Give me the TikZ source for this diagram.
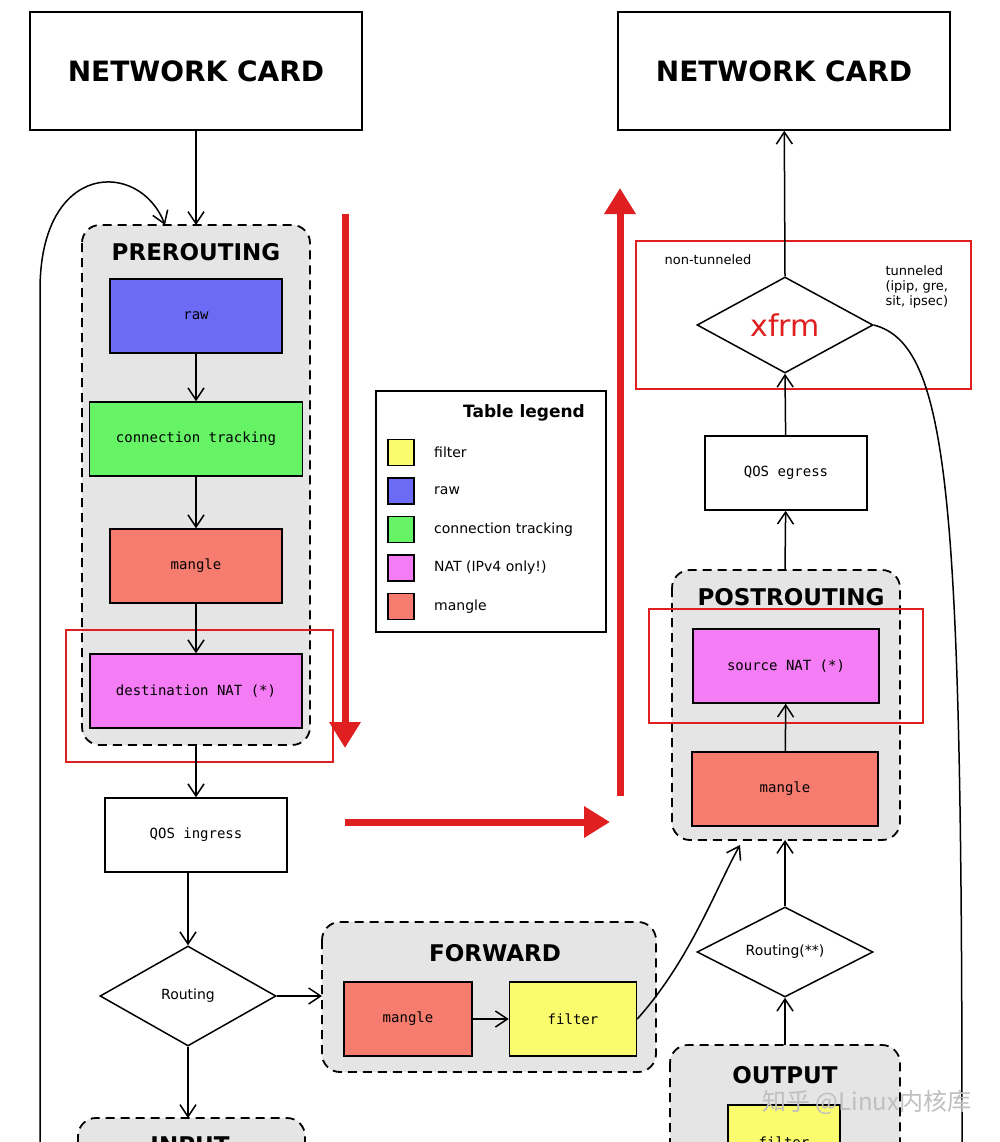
\documentclass[tikz,border=0pt]{standalone}
\usepackage{fontspec}
\setmainfont{DejaVu Sans}
\newfontfamily\monofont{DejaVu Sans Mono}
\newfontfamily\cjk{Noto Sans CJK SC}
\usetikzlibrary{shapes.geometric, positioning, arrows.meta}
\definecolor{rawblue}{HTML}{6B6BF5}
\definecolor{ctgreen}{HTML}{66F466}
\definecolor{mgred}{HTML}{F77C70}
\definecolor{natpink}{HTML}{F47CF4}
\definecolor{filtyel}{HTML}{FBFB6E}
\definecolor{hired}{HTML}{E02020}
\tikzset{
  card/.style={draw=black,line width=1.5pt,fill=white,minimum width=332pt,minimum height=118pt,font=\fontsize{28}{30}\selectfont\bfseries},
  tbl/.style={draw=black,line width=1.5pt,minimum height=74pt,font=\monofont\fontsize{14}{16}\selectfont},
  chain/.style={draw=black,line width=1.8pt,dash pattern=on 9pt off 6pt,rounded corners=18pt,fill=black!10},
  ctitle/.style={font=\fontsize{23}{25}\selectfont\bfseries},
  decide/.style={diamond,draw=black,line width=1.5pt,fill=white,aspect=1.8,inner sep=0pt,font=\fontsize{14}{16}\selectfont},
  flow/.style={line width=1.5pt,-{Straight Barb[length=12pt,width=16pt]}},
  hilite/.style={draw=hired,line width=2.2pt},
  bigarrow/.style={hired,line width=7pt,-{Triangle[length=26pt,width=30pt]}},
  swatch/.style={draw=black,line width=1.3pt,minimum width=26pt,minimum height=26pt,inner sep=0pt},
  legtext/.style={anchor=west,font=\fontsize{14}{16}\selectfont}
}
\begin{document}
\begin{tikzpicture}[x=1pt,y=-1pt]
  \useasboundingbox (0,0) rectangle (1000,1142);
  % cards
  \node[card] (cardin) at (196,71) {NETWORK CARD};
  \node[card] (cardout) at (784,71) {NETWORK CARD};

  % PREROUTING
  \draw[chain] (82,225) rectangle (310,745);
  \coordinate (pretop) at (196,225);
  \coordinate (preloop) at (165,225);
  \coordinate (prebot) at (196,745);
  \node[ctitle] at (196,252) {PREROUTING};
  \node[tbl,fill=rawblue,minimum width=172pt] (raw) at (196,316) {raw};
  \node[tbl,fill=ctgreen,minimum width=213pt] (conn) at (196,439) {connection tracking};
  \node[tbl,fill=mgred,minimum width=172pt] (premangle) at (196,566) {mangle};
  \node[tbl,fill=natpink,minimum width=212pt] (dnat) at (196,691) {destination NAT (*)};
  \draw[hilite] (66,630) rectangle (333,762);

  \node[tbl,fill=white,minimum width=182pt] (qosin) at (196,835) {QOS ingress};
  \node[decide,minimum width=176pt,minimum height=100pt] (route) at (188,996) {Routing};

  % INPUT
  \draw[chain] (78,1118) rectangle (305,1200);
  \coordinate (intop) at (188,1118);
  \node[ctitle] at (190,1145) {INPUT};

  % FORWARD
  \draw[chain] (322,922) rectangle (656,1072);
  \coordinate (fwdleft) at (322,996);
  \node[ctitle] at (495,953) {FORWARD};
  \node[tbl,fill=mgred,minimum width=128pt] (fwdmangle) at (408,1019) {mangle};
  \node[tbl,fill=filtyel,minimum width=127pt] (fwdfilter) at (573,1019) {filter};

  % OUTPUT
  \draw[chain] (670,1045) rectangle (900,1200);
  \coordinate (outtop) at (785,1045);
  \node[ctitle] at (785,1075) {OUTPUT};
  \node[tbl,fill=filtyel,minimum width=112pt] (outfilter) at (784,1142) {filter};
  \node[decide,minimum width=176pt,minimum height=90pt] (route2) at (785,952) {Routing(**)};

  % POSTROUTING
  \draw[chain] (672,570) rectangle (900,840);
  \coordinate (posttop) at (785,570);
  \coordinate (postbot) at (785,840);
  \coordinate (postin) at (740,845);
  \node[ctitle] at (791,597) {POSTROUTING};
  \node[tbl,fill=natpink,minimum width=186pt] (snat) at (786,666) {source NAT (*)};
  \node[tbl,fill=mgred,minimum width=186pt] (postmangle) at (785,789) {mangle};
  \draw[hilite] (649,609) rectangle (923,723);

  \node[tbl,fill=white,minimum width=162pt] (qosout) at (786,473) {QOS egress};
  \node[decide,minimum width=176pt,minimum height=96pt,font=\fontsize{30}{32}\selectfont,text=hired] (xfrm) at (785,325) {xfrm};
  \draw[hilite] (636,241) rectangle (971,389);
  \node[font=\fontsize{13}{15}\selectfont] at (708,260) {non-tunneled};
  \node[font=\fontsize{13}{15}\selectfont,align=left,anchor=north west] at (882,262) {tunneled\\(ipip, gre,\\sit, ipsec)};

  % legend
  \draw[line width=1.5pt] (376,391) rectangle (606,632);
  \node[font=\fontsize{17}{19}\selectfont\bfseries] at (524,413) {Table legend};
  \foreach \col/\txt [count=\i] in {filtyel/filter, rawblue/raw, ctgreen/connection tracking, natpink/NAT (IPv4 only!), mgred/mangle}{
    \node[swatch,fill=\col] (sw\i) at (401,414+38.5*\i) {};
    \node[legtext,right=16pt of sw\i] {\txt};
  }

  % connectors
  \draw[flow] (cardin) -- (pretop);
  \draw[flow] (raw) -- (conn);
  \draw[flow] (conn) -- (premangle);
  \draw[flow] (premangle) -- (dnat);
  \draw[flow] (prebot) -- (qosin);
  \draw[flow] (qosin.south -| route) -- (route.north);
  \draw[flow] (route.south) -- (intop);
  \draw[flow] (route.east) -- (fwdleft);
  \draw[flow] (fwdmangle) -- (fwdfilter);
  \draw[flow] (fwdfilter.east) .. controls (690,960) and (715,890) .. (postin);
  \draw[flow] (outtop) -- (route2.south);
  \draw[flow] (route2.north) -- (postbot);
  \draw[flow] (postmangle) -- (snat);
  \draw[flow] (posttop) -- (qosout);
  \draw[flow] (qosout) -- (xfrm.south);
  \draw[flow] (xfrm.north) -- (cardout);
  \draw[line width=1.5pt] (xfrm.east) .. controls (950,345) and (962,500) .. (962,1150);
  \draw[flow] (40,1150) -- (40,290) .. controls (40,160) and (140,160) .. (preloop);

  % highlight arrows
  \draw[bigarrow] (345,214) -- (345,748);
  \draw[bigarrow] (345,822) -- (610,822);
  \draw[bigarrow] (620,796) -- (620,188);

  % watermark
  \node[font=\cjk\fontsize{24}{26}\selectfont,text=black!25,anchor=east] at (975,1102) {知乎 @Linux内核库};
\end{tikzpicture}
\end{document}
